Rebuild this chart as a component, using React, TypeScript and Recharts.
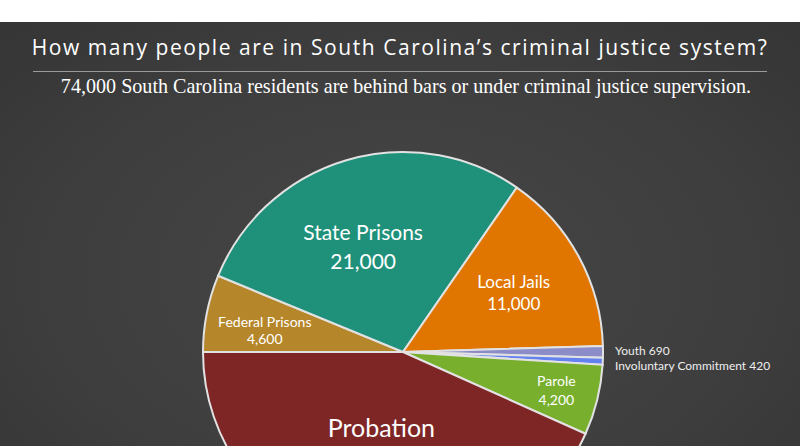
import React from "react";
import { PieChart, Pie, Cell } from "recharts";

const categories = [
	"Federal Prisons",
	"State Prisons",
	"Local Jails",
	"Youth",
	"Involuntary Commitment",
	"Parole",
	"Probation",
];
const values = [4600, 21000, 11000, 690, 420, 4200, 32000];
const valueLabels = ["4,600", "21,000", "11,000", "690", "420", "4,200", ""];
const colors = ["#b5862a", "#1f917b", "#e07500", "#8c8cc8", "#6382f0", "#78b02e", "#7e2525"];

const data = categories.map((name, i) => ({ name, value: values[i], label: valueLabels[i] }));

// label placement per slice: radius fraction, angle nudge, font size, line gap
const labelRadius = [0.7, 0.57, 0.63, 0, 0, 0.79, 0.39];
const labelNudge = [2, 4, 0, 0, 0, 0, -4];
const labelSize = [14, 21, 17, 12, 12, 14, 25];
const labelGap = [17, 29, 22, 0, 0, 19, 0];

const RAD = Math.PI / 180;

const renderLabel = (props: any) => {
	const { cx, cy, midAngle, outerRadius, index } = props;
	const d = data[index];
	const font = "Lato, 'Noto Sans', sans-serif";
	if (index === 3 || index === 4) {
		const y = index === 3 ? cy - 1.5 : cy + 13;
		return (
			<text x={cx + outerRadius + 12} y={y} fill="#eeeeee" fontSize={12} fontFamily={font} textAnchor="start" dominantBaseline="central">
				{d.name} {d.label}
			</text>
		);
	}
	const r = outerRadius * labelRadius[index];
	const a = (midAngle + labelNudge[index]) * RAD;
	const x = cx + r * Math.cos(-a);
	const y = cy + r * Math.sin(-a);
	const fs = labelSize[index];
	const gap = labelGap[index];
	if (!d.label) {
		return (
			<text x={x} y={y} fill="#ffffff" fontSize={fs} fontFamily={font} textAnchor="middle" dominantBaseline="central">
				{d.name}
			</text>
		);
	}
	return (
		<text fill="#ffffff" fontSize={fs} fontFamily={font} textAnchor="middle" dominantBaseline="central">
			<tspan x={x} y={y - gap / 2}>{d.name}</tspan>
			<tspan x={x} y={y + gap / 2}>{d.label}</tspan>
		</text>
	);
};

export default function App() {
	return (
		<div style={{ position: "absolute", left: 0, top: 0, width: 800, height: 446, background: "#ffffff", overflow: "hidden" }}>
			<div
				style={{
					position: "absolute",
					left: 0,
					top: 22,
					width: 800,
					height: 424,
					background: "radial-gradient(ellipse at 50% 60%, #464646 0%, #3f3f3f 55%, #353535 100%)",
				}}
			>
				<div
					style={{
						position: "absolute",
						top: 11,
						left: 0,
						width: 800,
						textAlign: "center",
						color: "#ffffff",
						fontFamily: "'Open Sans', Lato, sans-serif",
						fontSize: 21,
						letterSpacing: 1.55,
					}}
				>
					How many people are in South Carolina’s criminal justice system?
				</div>
				<div style={{ position: "absolute", top: 49, left: 33, width: 734, height: 1, background: "#9a9a9a" }} />
				<div
					style={{
						position: "absolute",
						top: 53,
						left: 0,
						width: 812,
						textAlign: "center",
						color: "#ffffff",
						fontFamily: "'Liberation Serif', serif",
						fontSize: 20.1,
						letterSpacing: 0,
					}}
				>
					74,000 South Carolina residents are behind bars or under criminal justice supervision.
				</div>
			</div>
			<div style={{ position: "absolute", left: 0, top: 0 }}>
				<PieChart width={800} height={600} margin={{ top: 0, right: 0, bottom: 0, left: 0 }}>
					<Pie
						data={data}
						dataKey="value"
						nameKey="name"
						cx={403}
						cy={352}
						outerRadius={200}
						startAngle={180}
						endAngle={-180}
						stroke="#e2e2e2"
						strokeWidth={2}
						label={renderLabel}
						labelLine={false}
						isAnimationActive={false}
					>
						{data.map((d, i) => (
							<Cell key={d.name} fill={colors[i]} />
						))}
					</Pie>
				</PieChart>
			</div>
		</div>
	);
}
